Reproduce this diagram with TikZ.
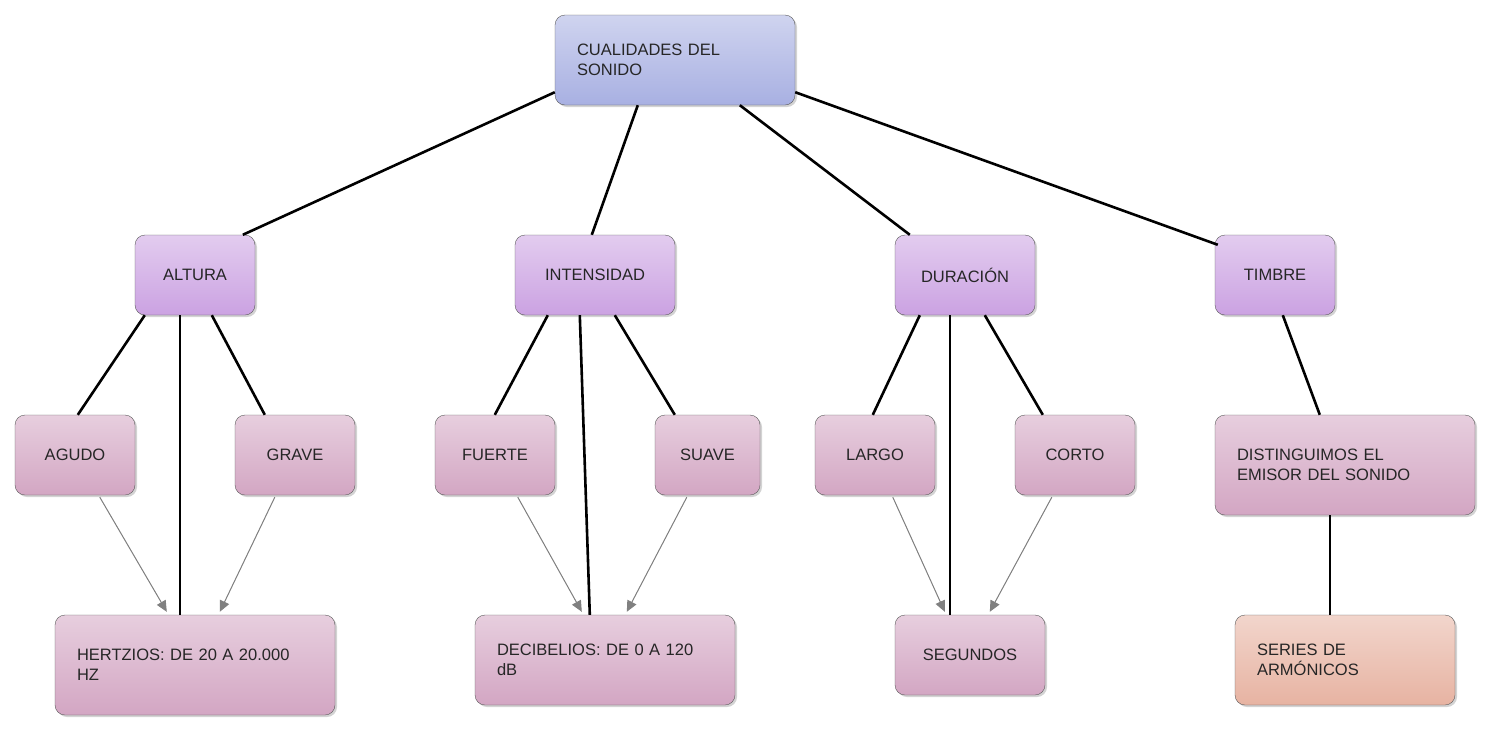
\documentclass[tikz,border=0pt]{standalone}
\usepackage{fontspec}
\setmainfont{Liberation Sans}
\usetikzlibrary{shadows,arrows.meta}
\definecolor{cq}{HTML}{A8B0E2}
\definecolor{cp}{HTML}{CBA2E2}
\definecolor{ck}{HTML}{D3A6C3}
\definecolor{co}{HTML}{E7B3A2}
\tikzset{
 bx/.style={draw=black!65,rounded corners=10pt,inner sep=0pt,font=\fontsize{16.5}{20}\selectfont,text=black!85,drop shadow={opacity=0.35,shadow xshift=2pt,shadow yshift=-2pt}},
 q/.style={bx,top color=cq!55,bottom color=cq},
 p/.style={bx,top color=cp!55,bottom color=cp},
 k/.style={bx,top color=ck!55,bottom color=ck},
 o/.style={bx,top color=co!55,bottom color=co},
 ln/.style={line width=2.6pt},
 ar/.style={draw=gray,line width=1pt,-{Triangle[length=11pt,width=10pt]},fill=gray}
}
\newcommand{\bxn}[7]{\node[#6,minimum width={#4-#2},minimum height={#5-#3}] (#1) at ({(#2+#4)/2},{(#3+#5)/2}) {#7};}
\begin{document}
\begin{tikzpicture}[x=1pt,y=-1pt]
\useasboundingbox (0,0) rectangle (1500,740);
\bxn{cual}{555}{15}{795}{105}{q,text width=196pt,align=left}{CUALIDADES DEL\\SONIDO}
\bxn{alt}{135}{235}{255}{315}{p}{ALTURA}
\bxn{int}{515}{235}{675}{315}{p}{INTENSIDAD}
\bxn{dur}{895}{235}{1035}{315}{p}{DURACIÓN}
\bxn{tim}{1215}{235}{1335}{315}{p}{TIMBRE}
\bxn{agu}{15}{415}{135}{495}{k}{AGUDO}
\bxn{gra}{235}{415}{355}{495}{k}{GRAVE}
\bxn{fue}{435}{415}{555}{495}{k}{FUERTE}
\bxn{sua}{655}{415}{760}{495}{k}{SUAVE}
\bxn{lar}{815}{415}{935}{495}{k}{LARGO}
\bxn{cor}{1015}{415}{1135}{495}{k}{CORTO}
\bxn{dis}{1215}{415}{1475}{515}{k,text width=216pt,align=left}{DISTINGUIMOS EL\\EMISOR DEL SONIDO}
\bxn{her}{55}{615}{335}{715}{k,text width=236pt,align=left}{HERTZIOS: DE 20 A 20.000\\HZ}
\bxn{dec}{475}{615}{735}{705}{k,text width=216pt,align=left}{DECIBELIOS: DE 0 A 120\\dB}
\bxn{seg}{895}{615}{1045}{695}{k}{SEGUNDOS}
\bxn{ser}{1235}{615}{1455}{705}{o,text width=176pt,align=left}{SERIES DE\\ARMÓNICOS}
\draw[ln] ([yshift=13pt]cual.south west) -- ([xshift=108pt]alt.north west);
\draw[ln] ([xshift=83pt]cual.south west) -- ([xshift=77pt]int.north west);
\draw[ln] ([xshift=185pt]cual.south west) -- ([xshift=15pt]dur.north west);
\draw[ln] ([yshift=13pt]cual.south east) -- ([xshift=3pt,yshift=-10pt]tim.north west);
\draw[ln] ([xshift=10pt]alt.south west) -- ([xshift=63pt]agu.north west);
\draw[ln] ([xshift=45pt]alt.south west) -- ([xshift=125pt]her.north west);
\draw[ln] ([xshift=77pt]alt.south west) -- ([xshift=30pt]gra.north west);
\draw[ln] ([xshift=33pt]int.south west) -- ([xshift=60pt]fue.north west);
\draw[ln] ([xshift=65pt]int.south west) -- ([xshift=115pt]dec.north west);
\draw[ln] ([xshift=100pt]int.south west) -- ([xshift=20pt]sua.north west);
\draw[ln] ([xshift=25pt]dur.south west) -- ([xshift=58pt]lar.north west);
\draw[ln] ([xshift=55pt]dur.south west) -- ([xshift=55pt]seg.north west);
\draw[ln] ([xshift=90pt]dur.south west) -- ([xshift=28pt]cor.north west);
\draw[ln] ([xshift=68pt]tim.south west) -- ([xshift=105pt]dis.north west);
\draw[ln] ([xshift=115pt]dis.south west) -- ([xshift=95pt]ser.north west);
\draw[ar] ([xshift=85pt,yshift=-2pt]agu.south west) -- ([xshift=112pt,yshift=3pt]her.north west);
\draw[ar] ([xshift=40pt,yshift=-2pt]gra.south west) -- ([xshift=165pt,yshift=3pt]her.north west);
\draw[ar] ([xshift=83pt,yshift=-2pt]fue.south west) -- ([xshift=107pt,yshift=3pt]dec.north west);
\draw[ar] ([xshift=32pt,yshift=-2pt]sua.south west) -- ([xshift=152pt,yshift=3pt]dec.north west);
\draw[ar] ([xshift=78pt,yshift=-2pt]lar.south west) -- ([xshift=50pt,yshift=3pt]seg.north west);
\draw[ar] ([xshift=37pt,yshift=-2pt]cor.south west) -- ([xshift=95pt,yshift=3pt]seg.north west);
\end{tikzpicture}
\end{document}
